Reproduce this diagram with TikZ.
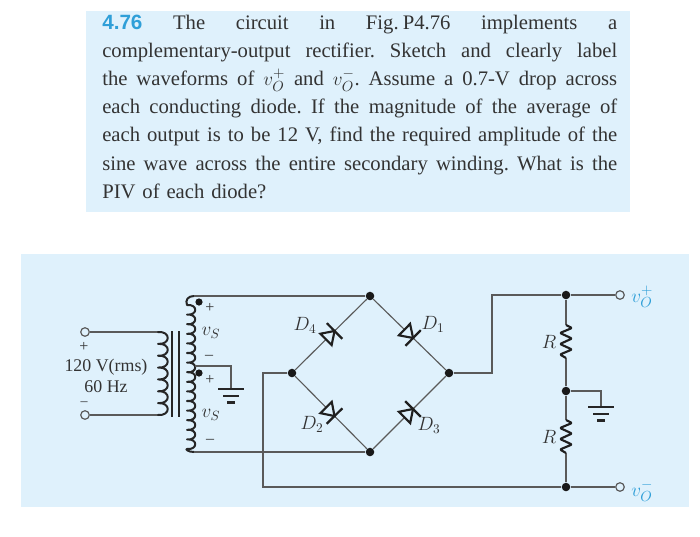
\documentclass[tikz,border=0pt]{standalone}
\usepackage{fontspec}
\setmainfont{Liberation Serif}
\newfontfamily\numfont{Liberation Sans}
\definecolor{panel}{HTML}{DFF1FC}
\definecolor{accent}{HTML}{2F9FD8}
\definecolor{ink}{HTML}{333333}
\definecolor{wire}{HTML}{5A5A5A}
\newcommand{\jline}[1]{\hbox to 386.25pt{\spaceskip=.25em plus 1fil\relax\xspaceskip=.25em plus 1fil\relax #1}}
\tikzset{
  panelbox/.style={fill=panel,draw=none},
  conn/.style={draw=wire,line width=0.85pt},
  coilline/.style={draw=black!85,line width=1.5pt,line join=round,line cap=round},
  corebar/.style={draw=black!85,line width=1.5pt},
  joint/.style={circle,fill=black!90,inner sep=0pt,minimum size=6.4pt},
  smalldot/.style={circle,fill=black!90,inner sep=0pt,minimum size=5.4pt},
  term/.style={circle,draw=wire,fill=panel,line width=0.9pt,inner sep=0pt,minimum size=6.4pt},
  lab/.style={text=ink,font=\fontsize{13.4}{15}\selectfont,inner sep=0pt},
  sign/.style={text=ink,font=\fontsize{12}{12}\selectfont,inner sep=0pt},
  smallsign/.style={text=ink,font=\fontsize{10.5}{10.5}\selectfont,inner sep=0pt},
  mlab/.style={text=ink,font=\fontsize{14.5}{15}\selectfont,inner sep=0pt},
  outlab/.style={text=accent,font=\fontsize{15}{16}\selectfont,inner sep=0pt,anchor=west},
  diode/.pic={
    \draw[line width=1.6pt,draw=black!88,fill=panel,line join=miter] (-7,-8) -- (-7,8) -- (5,0) -- cycle;
    \draw[line width=1.7pt,draw=black!88] (5,-11) -- (5,11);
  },
  groundsym/.pic={
    \draw[line width=1.6pt,draw=black!85] (-13,0) -- (13,0);
    \draw[line width=1.6pt,draw=black!85] (-8,7) -- (8,7);
    \draw[line width=1.9pt,draw=black!85] (-4,13.5) -- (4,13.5);
  }
}
\begin{document}
\begin{tikzpicture}[x=0.75pt,y=-0.75pt]
\useasboundingbox (0,0) rectangle (700,536);
\fill[white] (0,0) rectangle (700,536);
\path[panelbox] (86,11) rectangle (630,212);
\path[panelbox] (21,254) rectangle (689,507);

\node[anchor=north west,inner sep=0pt,text width=386.25pt,text=ink,font=\fontsize{15.5}{21.15}\selectfont] (problem) at (102,14.5) {%
\jline{{\numfont\bfseries\textcolor{accent}{4.76}} The circuit in \mbox{Fig.\kern.2em P4.76} implements a}
\jline{complementary-output rectifier. Sketch and clearly label}
\jline{the waveforms of $v_O^+$ and $v_O^-$. Assume a 0.7-V drop across}
\jline{each conducting diode. If the magnitude of the average of}
\jline{each output is to be 12 V, find the required amplitude of the}
\jline{sine wave across the entire secondary winding. What is the}
\hbox{PIV of each diode?}};

% input
\node[term] (inA) at (85,332) {};
\node[term] (inB) at (85,415) {};
\coordinate (priA) at (158,332);
\coordinate (priB) at (158,415);
\draw[conn] (inA) -- (priA);
\draw[conn] (inB) -- (priB);
\draw[coilline] (priA) \foreach \i in {0,...,6}{ .. controls ({171},{332+\i*11.857-1}) and ({171},{332+(\i+1)*11.857+1}) .. ({158},{332+(\i+1)*11.857}) };
\draw[corebar] (172,331) -- (172,417);
\draw[corebar] (179,331) -- (179,417);
\node[sign] (plusin) at (84,347) {+};
\node[lab] (v120) at (106,367) {120 V(rms)};
\node[lab] (hz) at (106,386.5) {60 Hz};
\node[smallsign] (minusin) at (84,404) {--};

% secondary
\coordinate (secT) at (194,296);
\coordinate (secC) at (195,366);
\coordinate (secB) at (194,452);
\draw[coilline] (secT) .. controls (188,296) and (185,300) .. (187,305)
  \foreach \i in {0,...,14}{ .. controls ({198},{305+\i*9.6-1}) and ({198},{305+(\i+1)*9.6+1}) .. ({187},{305+(\i+1)*9.6}) }
  .. controls (185,449) and (188,452) .. (secB);
\node[smalldot] (dotA) at (199,302) {};
\node[smalldot] (dotB) at (199,373) {};
\node[sign] (p1) at (210,308) {+};
\node[mlab] (vs1) at (211,333) {$v_S$};
\node[sign] (m1) at (209,357) {--};
\node[sign] (p2) at (210,380) {+};
\node[mlab] (vs2) at (211,415) {$v_S$};
\node[sign] (m2) at (210,441) {--};

% left ground
\coordinate (gndLcorner) at (231,366);
\coordinate (gndL) at (231,389);
\draw[conn] (secC) -- (gndLcorner) -- (gndL);
\pic at (gndL) {groundsym};

% bridge
\node[joint] (bT) at (370,296) {};
\node[joint] (bL) at (292,373) {};
\node[joint] (bR) at (449,373) {};
\node[joint] (bB) at (370,452) {};
\draw[conn] (secT) -- (bT);
\draw[conn] (secB) -- (bB);
\draw[conn] (bL) -- pic[pos=.5,sloped]{diode} (bT);
\draw[conn] (bT) -- pic[pos=.5,sloped]{diode} (bR);
\draw[conn] (bL) -- pic[pos=.5,sloped]{diode} (bB);
\draw[conn] (bB) -- pic[pos=.5,sloped]{diode} (bR);
\node[mlab] (d4) at (305,325) {$D_4$};
\node[mlab] (d1) at (433,324) {$D_1$};
\node[mlab] (d2) at (312,424) {$D_2$};
\node[mlab] (d3) at (429,425) {$D_3$};

% output wiring
\node[joint] (nT) at (566,295) {};
\node[joint] (nM) at (566,391) {};
\node[joint] (nB) at (566,487) {};
\node[term] (outP) at (620,295) {};
\node[term] (outN) at (620,487) {};
\coordinate (wa) at (263,373);
\coordinate (wb) at (263,487);
\coordinate (wc) at (492,373);
\coordinate (wd) at (492,295);
\draw[conn] (bL) -- (wa) -- (wb) -- (nB);
\draw[conn] (bR) -- (wc) -- (wd) -- (nT);
\draw[conn] (nT) -- (outP);
\draw[conn] (nB) -- (outN);
\coordinate (r1a) at (566,325);
\coordinate (r1b) at (566,358);
\coordinate (r2a) at (566,420);
\coordinate (r2b) at (566,453);
\draw[conn] (nT) -- (r1a);
\draw[conn] (r1b) -- (nM) -- (r2a);
\draw[conn] (r2b) -- (nB);
\draw[line width=1.6pt,draw=black!88,line join=round,rounded corners=0.8pt]
  (r1a) -- (572,328) -- (560,333) -- (572,338.5) -- (560,344) -- (572,349.5) -- (560,354.5) -- (r1b);
\draw[line width=1.6pt,draw=black!88,line join=round,rounded corners=0.8pt]
  (r2a) -- (572,423) -- (560,428) -- (572,433.5) -- (560,439) -- (572,444.5) -- (560,449.5) -- (r2b);
\node[mlab] (r1) at (549,342) {$R$};
\node[mlab] (r2) at (549,437) {$R$};
\coordinate (gndRcorner) at (601,391);
\coordinate (gndR) at (601,407);
\draw[conn] (nM) -- (gndRcorner) -- (gndR);
\pic at (gndR) {groundsym};
\node[outlab] (vp) at (631,297) {$v_O^+$};
\node[outlab] (vn) at (631,491) {$v_O^-$};
\end{tikzpicture}
\end{document}
